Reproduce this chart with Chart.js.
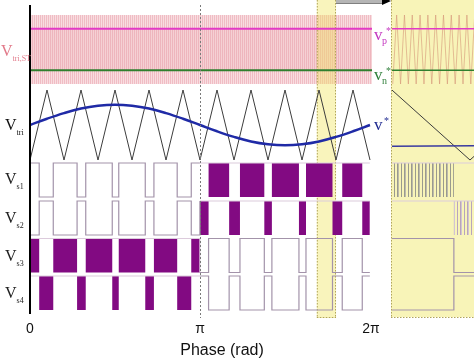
<!DOCTYPE html>
<html>
<head>
<meta charset="utf-8">
<script src="https://cdn.jsdelivr.net/npm/chart.js@4.4.0/dist/chart.umd.min.js"></script>
<style>
  body { margin: 0; background: #fff; }
  #wrap { position: relative; width: 474px; height: 362px; }
  #main { position: absolute; left: 0; top: 0; }
  #inset { position: absolute; left: 390px; top: 0; }
</style>
</head>
<body>
<div id="wrap">
  <canvas id="main" width="474" height="362"></canvas>
  <canvas id="inset" width="84" height="319"></canvas>
</div>
<script>
// carrier (v_tri) vertices, one every pi/10, starting at a trough
const triStep = Math.PI / 10;
const triLevel = [-1, 1, -1, 1, -1, 1, -1, 1, -1, 1, -1, 1, -1, 1, -1, 1, -1, 1, -1, 1, -1];
// reference v* read at the same phases
const refLevel = [0, 0.18, 0.34, 0.47, 0.55, 0.58, 0.55, 0.47, 0.34, 0.18, 0,
                  -0.18, -0.34, -0.47, -0.55, -0.58, -0.55, -0.47, -0.34, -0.18, 0];

// shoot-through carrier, only drawn in the zoomed inset
const stStart = 5.344;
const stStep = Math.PI / 200;
const stLevel = [-1, 1, -1, 1, -1, 1, -1, 1, -1, 1, -1, 1, -1, 1, -1, 1, -1, 1, -1, 1, -1, 1];
const stLimit = [0.6, -0.6]; // v_p*, v_n*

// switching instants (rad) and gate states per interval: 0 off, 1 on, 2 shoot-through
const swEdges = [0, 0.17, 0.43, 0.87, 1.03, 1.52, 1.64, 2.13, 2.29, 2.72, 2.98, 3.14,
                 3.30, 3.68, 3.88, 4.33, 4.47, 4.97, 5.10, 5.59, 5.77, 6.14, 6.28];
const s1State = [1, 0, 1, 0, 1, 0, 1, 0, 1, 0, 1,  1, 2, 1, 2, 1, 2, 1, 2, 1, 2, 1];
const s2State = [0, 1, 0, 1, 0, 1, 0, 1, 0, 1, 0,  2, 1, 2, 1, 2, 1, 2, 1, 2, 1, 2];
const s3State = [2, 1, 2, 1, 2, 1, 2, 1, 2, 1, 2,  0, 1, 0, 1, 0, 1, 0, 1, 0, 1, 0];
const s4State = [1, 2, 1, 2, 1, 2, 1, 2, 1, 2, 1,  1, 0, 1, 0, 1, 0, 1, 0, 1, 0, 1];

// zoom window and inset
const zoomWindow = [5.30, 5.655];
const insetRange = [5.341, 5.671];
const insetRef = [-0.61, -0.59];

const xTicks = [0, Math.PI, 2 * Math.PI];
const xTickText = ['0', 'π', '2π'];
const rowNames = ['s1', 's2', 's3', 's4'];

// layout (y units == pixels from chart bottom)
const ST_MID = 268.5, ST_AMP = 34.5;
const TRI_MID = 193, TRI_AMP = 35;
const ROW_BASE = [121, 83, 45.5, 8], ROW_H = 34;
const X_MAX = 6.32;

const OUTLINE = '#a393aa';
const FAINT = '#dccbdc';
const PURPLE = '#820a82';

const rows = [s1State, s2State, s3State, s4State];

function stripes(cols) {
  const c = document.createElement('canvas');
  c.width = cols.length; c.height = 1;
  const g = c.getContext('2d');
  cols.forEach((col, i) => { if (col) { g.fillStyle = col; g.fillRect(i, 0, 1, 1); } });
  return g.createPattern(c, 'repeat');
}

function rowPoints(state, r, fillMode) {
  const pts = state.map((s, i) => ({
    x: swEdges[i],
    y: ROW_BASE[r] + (fillMode ? (s === 2 ? ROW_H : 0) : (s ? ROW_H : 0))
  }));
  pts.push({ x: swEdges[swEdges.length - 1], y: pts[pts.length - 1].y });
  return pts;
}

function buildSets(inset) {
  const sets = [];
  if (!inset) {
    sets.push({
      data: [{ x: 0, y: ST_MID + ST_AMP }, { x: X_MAX, y: ST_MID + ST_AMP }],
      fill: { value: ST_MID - ST_AMP }, backgroundColor: stripes(['#f0bcc4', '#f8dde0']),
      borderWidth: 0, order: 10
    });
    sets.push({
      id: 'bandInner',
      data: [{ x: 0, y: ST_MID + ST_AMP * stLimit[0] }, { x: X_MAX, y: ST_MID + ST_AMP * stLimit[0] }],
      fill: { value: ST_MID + ST_AMP * stLimit[1] }, backgroundColor: 'rgba(232,150,160,0.18)',
      borderWidth: 0, order: 9
    });
  } else {
    sets.push({
      data: stLevel.map((v, i) => ({ x: stStart + i * stStep, y: ST_MID + ST_AMP * v })),
      borderColor: 'rgba(214,150,120,0.6)', borderWidth: 1, order: 9
    });
  }

  const fillPat = inset
    ? [stripes(['#9a9a8e', '#bdbbab', null, null, '#9a9a8e', null, null]),
       stripes(['#b8a4bc', '#d2c4d2', null, null, '#b8a4bc', null, null]), PURPLE, PURPLE]
    : [PURPLE, PURPLE, PURPLE, PURPLE];

  rows.forEach((state, r) => {
    const half = [state.slice(0, 11).includes(2), state.slice(11).includes(2)];
    sets.push({
      data: rowPoints(state, r, true), stepped: 'before',
      fill: { value: ROW_BASE[r] }, backgroundColor: fillPat[r], borderWidth: 0, order: 5
    });
    sets.push({
      data: rowPoints(state, r, false), stepped: 'before',
      borderColor: OUTLINE, borderWidth: 1.2, order: 4,
      segment: { borderColor: ctx => half[ctx.p0DataIndex < 11 ? 0 : 1] ? FAINT : OUTLINE }
    });
  });

  sets.push({
    data: triLevel.map((v, i) => ({ x: i * triStep, y: TRI_MID + TRI_AMP * v })),
    borderColor: '#3c3c3c', borderWidth: 1, order: 3
  });
  sets.push({
    data: [{ x: 0, y: ST_MID + ST_AMP * stLimit[0] }, { x: X_MAX, y: ST_MID + ST_AMP * stLimit[0] }],
    borderColor: '#e23ac6', borderWidth: inset ? 1.5 : 2, order: 2
  });
  sets.push({
    data: [{ x: 0, y: ST_MID + ST_AMP * stLimit[1] }, { x: X_MAX, y: ST_MID + ST_AMP * stLimit[1] }],
    borderColor: '#2f7f2f', borderWidth: inset ? 1.5 : 2, order: 2
  });
  if (!inset) {
    sets.push({
      data: refLevel.map((v, i) => ({ x: i * triStep, y: TRI_MID + TRI_AMP * v })),
      borderColor: '#1f2aa6', borderWidth: 2.5, tension: 0.4, order: 1
    });
  } else {
    sets.push({
      data: [{ x: insetRange[0], y: TRI_MID + TRI_AMP * insetRef[0] }, { x: insetRange[1], y: TRI_MID + TRI_AMP * insetRef[1] }],
      borderColor: '#3a3aa0', borderWidth: 1.5, order: 1
    });
  }
  return sets;
}

function dotted(ctx, x0, y0, x1, y1) {
  ctx.beginPath(); ctx.moveTo(x0, y0); ctx.lineTo(x1, y1); ctx.stroke();
}

function sLabel(ctx, x, y, main, sub, color) {
  ctx.fillStyle = color;
  ctx.font = '16px "Liberation Serif"';
  ctx.fillText(main, x, y);
  const w = ctx.measureText(main).width;
  ctx.font = '8px "Liberation Serif"';
  ctx.fillText(sub, x + w, y + 5);
}

function vLabel(ctx, x, y, sub, color) {
  ctx.fillStyle = color;
  ctx.font = '17px "Liberation Serif"';
  ctx.fillText('v', x, y);
  ctx.font = '10px "Liberation Serif"';
  if (sub) ctx.fillText(sub, x + 8, y + 4);
  ctx.fillText('*', x + (sub ? 12 : 10), y - 6);
}

const mainDeco = {
  id: 'mainDeco',
  afterDatasetDraw(chart, args) {
    if (chart.data.datasets[args.index].id !== 'bandInner') return;
    const ctx = chart.ctx, xs = chart.scales.x;
    const x0 = xs.getPixelForValue(zoomWindow[0]), x1 = xs.getPixelForValue(zoomWindow[1]);
    ctx.save();
    ctx.fillStyle = 'rgba(240,228,95,0.42)';
    ctx.fillRect(x0, 0, x1 - x0, 318);
    ctx.strokeStyle = '#b0a45c'; ctx.lineWidth = 1; ctx.setLineDash([1.5, 1.5]);
    dotted(ctx, x0 + 0.5, 0, x0 + 0.5, 318);
    dotted(ctx, x1 - 0.5, 0, x1 - 0.5, 318);
    dotted(ctx, x0, 317.5, x1, 317.5);
    ctx.restore();
  },
  afterDraw(chart) {
    const ctx = chart.ctx, xs = chart.scales.x;
    ctx.save();
    // vertical axis
    const x0 = xs.getPixelForValue(0);
    ctx.strokeStyle = '#000'; ctx.lineWidth = 2;
    dotted(ctx, x0, 5, x0, 314);
    // pi marker
    const xp = xs.getPixelForValue(Math.PI);
    ctx.strokeStyle = '#7a7a7a'; ctx.lineWidth = 1; ctx.setLineDash([2, 2]);
    dotted(ctx, xp + 0.5, 5, xp + 0.5, 318);
    ctx.setLineDash([]);

    // tick labels and title
    ctx.fillStyle = '#111'; ctx.textAlign = 'center';
    ctx.font = '14px "Liberation Sans"';
    xTicks.forEach((v, i) => ctx.fillText(xTickText[i], xs.getPixelForValue(v) + (i === 2 ? 1 : 0), 333));
    ctx.font = '16px "Liberation Sans"';
    ctx.fillText('Phase (rad)', 222, 355);
    ctx.textAlign = 'left';

    // left labels
    sLabel(ctx, 1, 56, 'V', 'tri,ST', '#e27a8a');
    sLabel(ctx, 5, 130, 'V', 'tri', '#111');
    const base = [184, 223, 261, 298];
    rowNames.forEach((n, i) => sLabel(ctx, 5, base[i], 'V', n, '#222'));

    // right labels
    vLabel(ctx, 374, 40, 'p', '#c437c0');
    vLabel(ctx, 374, 80, 'n', '#2f7f3a');
    vLabel(ctx, 374, 130, '', '#1f2a90');

    // arrow to inset
    ctx.fillStyle = '#b5b5b5'; ctx.strokeStyle = '#808080'; ctx.lineWidth = 1;
    ctx.fillRect(336, 0, 47, 3.5);
    dotted(ctx, 336, 3.5, 383, 3.5);
    ctx.fillStyle = '#000';
    ctx.beginPath(); ctx.moveTo(382, -3); ctx.lineTo(391, 1); ctx.lineTo(382, 5); ctx.closePath(); ctx.fill();
    ctx.restore();
  }
};

const insetDeco = {
  id: 'insetDeco',
  beforeDraw(chart) {
    const ctx = chart.ctx;
    ctx.save();
    ctx.fillStyle = '#f8f4b8';
    ctx.fillRect(1, 0, 83, 317);
    ctx.strokeStyle = '#b0a45c'; ctx.lineWidth = 1; ctx.setLineDash([1.5, 1.5]);
    dotted(ctx, 1.5, 0, 1.5, 317);
    dotted(ctx, 1, 317.5, 84, 317.5);
    ctx.restore();
  }
};

const common = (xmin, xmax, padding) => ({
  responsive: false,
  maintainAspectRatio: false,
  animation: false,
  devicePixelRatio: 1,
  events: [],
  layout: { padding },
  elements: { point: { radius: 0 }, line: { tension: 0 } },
  plugins: { legend: { display: false }, tooltip: { enabled: false } },
  scales: {
    x: { type: 'linear', min: xmin, max: xmax, display: false },
    y: { type: 'linear', min: 0, max: 318, display: false }
  }
});

new Chart(document.getElementById('main'), {
  type: 'line',
  data: { datasets: buildSets(false) },
  options: common(0, X_MAX, { left: 30, right: 102, top: 0, bottom: 44 }),
  plugins: [mainDeco]
});

new Chart(document.getElementById('inset'), {
  type: 'line',
  data: { datasets: buildSets(true) },
  options: common(insetRange[0], insetRange[1], { left: 2, right: 0, top: 0, bottom: 1 }),
  plugins: [insetDeco]
});
</script>
</body>
</html>
